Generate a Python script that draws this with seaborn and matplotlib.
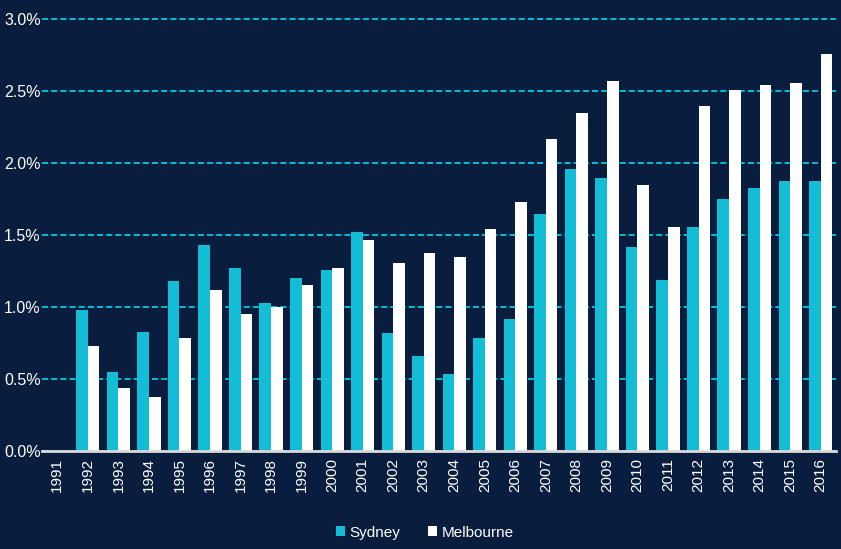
import pandas as pd
import numpy as np
import seaborn as sns
import matplotlib.pyplot as plt
from matplotlib.patches import Patch
from matplotlib.ticker import FuncFormatter

# data (percent), 1991 has no bar
years = [str(y) for y in range(1991, 2017)]
sydney = [np.nan, 0.98, 0.55, 0.83, 1.18, 1.43, 1.27, 1.03, 1.20, 1.26,
          1.52, 0.82, 0.66, 0.54, 0.79, 0.92, 1.65, 1.96, 1.90, 1.42,
          1.19, 1.56, 1.75, 1.83, 1.88, 1.875]
melbourne = [np.nan, 0.73, 0.44, 0.375, 0.79, 1.12, 0.95, 1.00, 1.155, 1.27,
             1.47, 1.31, 1.38, 1.35, 1.54, 1.73, 2.17, 2.35, 2.57, 1.85,
             1.56, 2.40, 2.51, 2.54, 2.56, 2.76]
series = ["Sydney", "Melbourne"]


def main():
    bg = "#091e3f"
    cyan = "#12bdd5"
    colors = {"Sydney": cyan, "Melbourne": "#ffffff"}

    df = pd.DataFrame({"year": years, "Sydney": sydney, "Melbourne": melbourne})
    long_df = df.melt(id_vars="year", value_vars=series, var_name="city", value_name="growth")

    sns.set_style("white")
    plt.rcParams["font.family"] = ["Liberation Sans", "DejaVu Sans"]

    fig = plt.figure(figsize=(8.41, 5.49), dpi=100, facecolor=bg)
    ax = fig.add_axes([0.05, 0.178, 0.944, 0.787])
    ax.set_facecolor(bg)

    sns.barplot(data=long_df, x="year", y="growth", hue="city", order=years,
                hue_order=series, palette=colors, width=0.76, gap=0,
                saturation=1, linewidth=0, ax=ax, legend=False, zorder=3)

    ax.set_ylim(0, 3.0)
    ax.set_xlim(-0.5, len(years) - 0.5)
    ax.set_yticks([0, 0.5, 1.0, 1.5, 2.0, 2.5, 3.0])
    ax.yaxis.set_major_formatter(FuncFormatter(lambda v, p: f"{v:.1f}%"))
    ax.grid(axis="y", color="#00e8ff", linestyle=(0, (4, 2)), linewidth=1.1, zorder=0)
    ax.set_axisbelow(True)
    # keep the 3.0% line whole at the top edge
    for gl in ax.get_ygridlines():
        gl.set_clip_on(False)

    for s in ["top", "right", "left"]:
        ax.spines[s].set_visible(False)
    ax.spines["bottom"].set_color("#d9d9d9")
    ax.spines["bottom"].set_linewidth(2)
    ax.spines["bottom"].set_zorder(5)

    ax.tick_params(axis="y", length=0, pad=1, labelsize=11.5, labelcolor="white")
    ax.tick_params(axis="x", length=0, pad=5, labelsize=11, labelcolor="white",
                   labelrotation=90)
    ax.set_xlabel("")
    ax.set_ylabel("")

    handles = [Patch(facecolor=colors[c], edgecolor="none", label=c) for c in series]
    fig.legend(handles=handles, loc="center", bbox_to_anchor=(0.505, 0.03), ncol=2,
               frameon=False, fontsize=11, labelcolor="white", handlelength=0.6,
               handleheight=0.6, handletextpad=0.3, columnspacing=1.8)

    fig.savefig("out.png", dpi=100, facecolor=bg)


if __name__ == "__main__":
    main()
